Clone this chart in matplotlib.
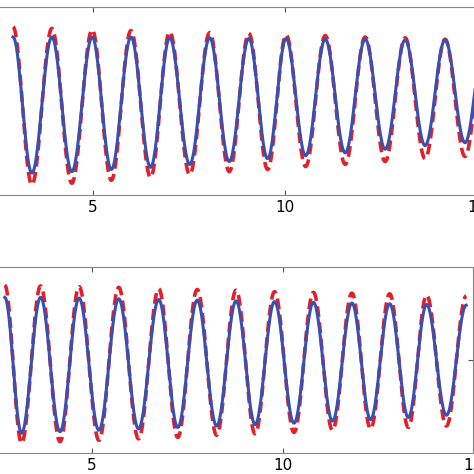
import numpy as np
import matplotlib
matplotlib.use("Agg")
import matplotlib.pyplot as plt

# extrema (time, value), alternating peak / trough
top_t = [2.92, 3.41, 3.93, 4.45, 4.98, 5.48, 5.99, 6.50, 7.00, 7.52, 8.04, 8.55,
         9.06, 9.55, 10.03, 10.54, 11.05, 11.57, 12.09, 12.61, 13.13, 13.65, 14.17, 14.69, 15.2]
top_blue = [0.88, -1.00, 0.88, -0.98, 0.88, -0.95, 0.88, -0.92, 0.87, -0.88, 0.87, -0.84,
            0.86, -0.80, 0.86, -0.76, 0.85, -0.72, 0.85, -0.67, 0.84, -0.62, 0.84, -0.58, 0.84]
top_red = [1.02, -1.16, 1.00, -1.14, 0.98, -1.10, 0.97, -1.06, 0.95, -1.02, 0.94, -0.98,
           0.93, -0.95, 0.91, -0.91, 0.90, -0.88, 0.88, -0.84, 0.87, -0.80, 0.85, -0.77, 0.84]

bot_t = [2.71, 3.15, 3.65, 4.16, 4.66, 5.18, 5.70, 6.22, 6.75, 7.25, 7.76, 8.27,
         8.78, 9.28, 9.79, 10.30, 10.81, 11.31, 11.82, 12.31, 12.81, 13.30, 13.78, 14.30, 14.82]
bot_blue = [0.88, -1.02, 0.88, -1.00, 0.87, -0.98, 0.86, -0.96, 0.85, -0.94, 0.84, -0.92,
            0.83, -0.90, 0.82, -0.88, 0.81, -0.85, 0.80, -0.83, 0.79, -0.80, 0.78, -0.77, 0.77]
bot_red = [1.05, -1.16, 1.04, -1.14, 1.03, -1.12, 1.02, -1.10, 1.00, -1.08, 0.99, -1.05,
           0.98, -1.03, 0.96, -1.01, 0.95, -0.98, 0.94, -0.96, 0.93, -0.94, 0.91, -0.92, 0.90]


def smooth(ts, vs, n=30):
    # half-cosine between successive extrema
    xs, ys = [], []
    for i in range(len(ts) - 1):
        s = np.linspace(0, 1, n, endpoint=False)
        w = (1 - np.cos(np.pi * s)) / 2
        xs.append(ts[i] + (ts[i + 1] - ts[i]) * s)
        ys.append(vs[i] + (vs[i + 1] - vs[i]) * w)
    xs.append([ts[-1]]); ys.append([vs[-1]])
    return np.concatenate(xs), np.concatenate(ys)


fig = plt.figure(figsize=(4.74, 4.74), dpi=100)
ppu = 38.4 / 474  # figure fraction per x unit


def make_axes(x0, x1, bottom, height):
    left = (x0 - 2.58) * ppu
    ax = fig.add_axes([left, bottom, (x1 - x0) * ppu, height])
    ax.set_xlim(x0, x1)
    ax.set_ylim(-1.3, 1.3)
    ax.set_xticks([5, 10, 15])
    ax.set_yticks([0])
    ax.set_yticklabels([])
    ax.tick_params(direction="in", top=True, right=True, labelsize=11, color="#555555")
    for sp in ax.spines.values():
        sp.set_color("#888888")
    return ax


ax1 = make_axes(2.0, 16.0, 0.589, 0.397)
ax2 = make_axes(2.0, 14.9, 0.044, 0.392)

for ax, t, red, blue in [(ax1, top_t, top_red, top_blue), (ax2, bot_t, bot_red, bot_blue)]:
    x, y = smooth(t, red)
    ax.plot(x, y, color="#e0202a", lw=2.6, ls="--", dashes=(3, 1.5))
    x, y = smooth(t, blue)
    ax.plot(x, y, color="#3a4fb0", lw=2.2)

fig.savefig("out.png", dpi=100)
